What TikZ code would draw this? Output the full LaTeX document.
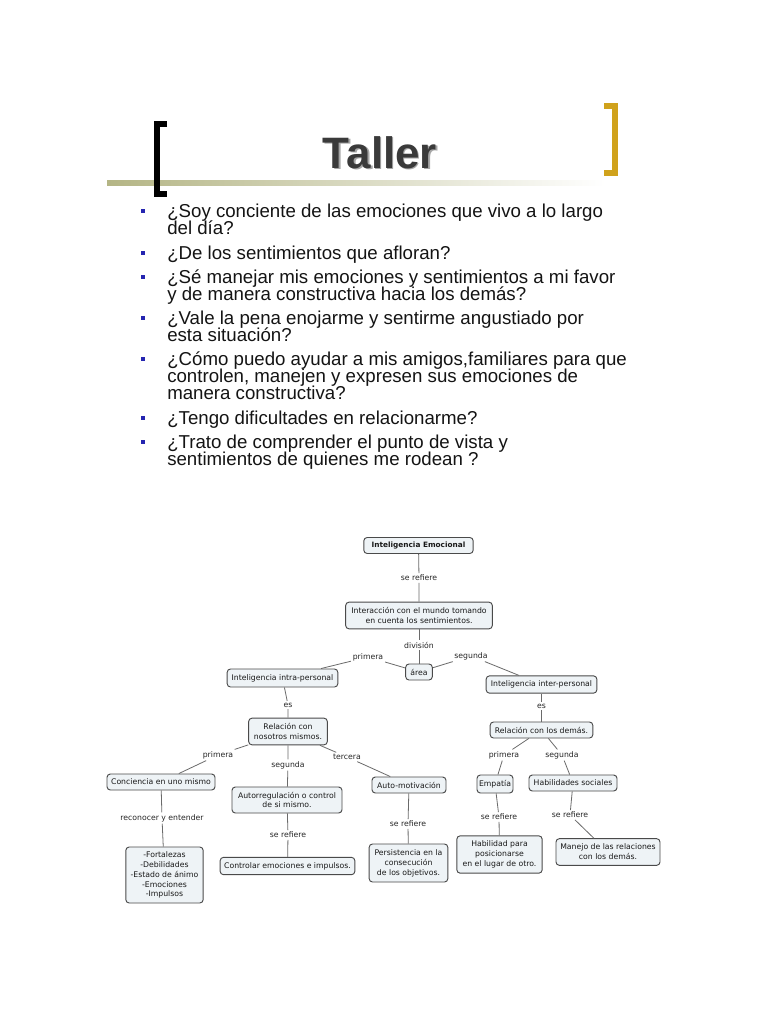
\documentclass[tikz,border=0pt]{standalone}
\usepackage{fontspec}
\setmainfont{Liberation Sans}
\newfontfamily\mapfont{DejaVu Sans}
\definecolor{boxfill}{HTML}{EEF3F6}
\definecolor{boxdraw}{HTML}{4A4A4A}
\definecolor{linkgray}{HTML}{6A6A6A}
\definecolor{bulletblue}{HTML}{2525B0}
\definecolor{goldbr}{HTML}{D0A21C}
\definecolor{olivebar}{HTML}{B4B585}
\definecolor{titlegray}{HTML}{3A3A3A}
\begin{document}
\begin{tikzpicture}[x=0.75pt,y=-0.75pt,
 cbox/.style={draw=boxdraw, line width=0.7pt, rounded corners=2.5pt, fill=boxfill,
   font=\mapfont\fontsize{5.8}{7.4}\selectfont, align=center, inner sep=1.5pt, text=black!90},
 clabel/.style={font=\mapfont\fontsize{5.8}{7}\selectfont, inner sep=1.2pt, text=black!85},
 link/.style={draw=linkgray, line width=0.6pt},
 qline/.style={anchor=base west, inner sep=0pt, font=\fontsize{14}{16}\selectfont, text=black!92},
 bul/.style={fill=bulletblue, minimum size=3pt, inner sep=0pt}]
\useasboundingbox (0,0) rectangle (768,1024);
\fill[white] (0,0) rectangle (768,1024);

% ---------- title ----------
\shade[left color=olivebar, right color=white] (107,180) rectangle (605,185);
\draw[line width=4pt, line cap=butt] (167,124) -- (157,124) -- (157,194) -- (167,194);
\draw[goldbr, line width=4pt, line cap=butt] (604,106) -- (615,106) -- (615,173) -- (604,173);
\node[anchor=base, font=\fontsize{33}{33}\selectfont\bfseries, text=black!35] (titlesh) at (381.5,169.5) {Taller};
\node[anchor=base, font=\fontsize{33}{33}\selectfont\bfseries, text=titlegray] (title) at (380,168) {Taller};

% ---------- questions ----------
\foreach \yb in {217,259,283,324,365,424,448}
  \node[bul] at (143,\yb-6) {};
\node[qline] (q1a) at (167,217) {¿Soy conciente de las emociones que vivo a lo largo};
\node[qline] (q1b) at (167,234) {del día?};
\node[qline] (q2)  at (167,259) {¿De los sentimientos que afloran?};
\node[qline] (q3a) at (167,283) {¿Sé manejar mis emociones y sentimientos a mi favor};
\node[qline] (q3b) at (167,300) {y de manera constructiva hacia los demás?};
\node[qline] (q4a) at (167,324) {¿Vale la pena enojarme y sentirme angustiado por};
\node[qline] (q4b) at (167,341) {esta situación?};
\node[qline] (q5a) at (167,365) {¿Cómo puedo ayudar a mis amigos,familiares para que};
\node[qline] (q5b) at (167,382) {controlen, manejen y expresen sus emociones de};
\node[qline] (q5c) at (167,399) {manera constructiva?};
\node[qline] (q6)  at (167,424) {¿Tengo dificultades en relacionarme?};
\node[qline] (q7a) at (167,448) {¿Trato de comprender el punto de vista y};
\node[qline] (q7b) at (167,465) {sentimientos de quienes me rodean ?};

% ---------- concept map nodes ----------
\node[cbox, font=\mapfont\bfseries\fontsize{5.5}{7}\selectfont, minimum width=82pt, minimum height=12pt] (ie) at (418.5,545.5) {Inteligencia Emocional};
\node[cbox, minimum width=110pt, minimum height=20pt] (inter0) at (419,615.5) {Interacción con el mundo tomando\\en cuenta los sentimientos.};
\node[cbox, minimum width=20pt, minimum height=12pt] (area) at (419,672) {área};
\node[cbox, minimum width=83pt, minimum height=13.5pt] (intra) at (282.5,678) {Inteligencia intra-personal};
\node[cbox, minimum width=83pt, minimum height=13pt] (interp) at (541.5,684.5) {Inteligencia inter-personal};
\node[cbox, minimum width=59pt, minimum height=20pt] (relnos) at (288,731.5) {Relación con\\nosotros mismos.};
\node[cbox, minimum width=77pt, minimum height=12pt] (reldem) at (541.5,730) {Relación con los demás.};
\node[cbox, minimum width=81pt, minimum height=12pt] (conc) at (161,782) {Conciencia en uno mismo};
\node[cbox, minimum width=82.5pt, minimum height=19.5pt] (autoreg) at (287,800) {Autorregulación o control\\de si mismo.};
\node[cbox, minimum width=55.5pt, minimum height=12pt] (automot) at (409,785) {Auto-motivación};
\node[cbox, minimum width=58pt, minimum height=42pt] (fort) at (164.5,875) {-Fortalezas\\-Debilidades\\-Estado de ánimo\\-Emociones\\-Impulsos};
\node[cbox, minimum width=101pt, minimum height=13pt] (contr) at (287.5,866) {Controlar emociones e impulsos.};
\node[cbox, minimum width=59pt, minimum height=28.5pt] (pers) at (408.5,863) {Persistencia en la\\consecución\\de los objetivos.};
\node[cbox, minimum width=25.5pt, minimum height=13.5pt] (emp) at (495,784) {Empatía};
\node[cbox, minimum width=66pt, minimum height=12pt] (habsoc) at (573,783) {Habilidades sociales};
\node[cbox, minimum width=64pt, minimum height=28pt] (habpara) at (499.5,854.5) {Habilidad para\\posicionarse\\en el lugar de otro.};
\node[cbox, minimum width=78pt, minimum height=20pt] (manejo) at (608,852) {Manejo de las relaciones\\con los demás.};

% ---------- link labels ----------
\node[clabel] (l1) at (419,578) {se refiere};
\node[clabel] (l2) at (419,645) {división};
\node[clabel] (l3) at (368,657) {primera};
\node[clabel] (l4) at (471,656) {segunda};
\node[clabel] (l5) at (288,705) {es};
\node[clabel] (l6) at (541.5,706) {es};
\node[clabel] (l7) at (218,755) {primera};
\node[clabel] (l8) at (288,765) {segunda};
\node[clabel] (l9) at (347,757) {tercera};
\node[clabel] (l10) at (162,818) {reconocer y entender};
\node[clabel] (l11) at (288,835) {se refiere};
\node[clabel] (l12) at (408,824) {se refiere};
\node[clabel] (l13) at (504,755) {primera};
\node[clabel] (l14) at (562,755) {segunda};
\node[clabel] (l15) at (499,817) {se refiere};
\node[clabel] (l16) at (570,815) {se refiere};

% ---------- connectors ----------
\draw[link] (ie) -- (l1) -- (inter0);
\draw[link] (inter0) -- (l2) -- (area);
\draw[link] (area) -- (l3) -- (intra);
\draw[link] (area) -- (l4) -- (interp);
\draw[link] (intra) -- (l5) -- (relnos);
\draw[link] (interp) -- (l6) -- (reldem);
\draw[link] (relnos) -- (l7) -- (conc);
\draw[link] (relnos) -- (l8) -- (autoreg);
\draw[link] (relnos) -- (l9) -- (automot);
\draw[link] (conc) -- (l10) -- (fort);
\draw[link] (autoreg) -- (l11) -- (contr);
\draw[link] (automot) -- (l12) -- (pers);
\draw[link] (reldem) -- (l13) -- (emp);
\draw[link] (reldem) -- (l14) -- (habsoc);
\draw[link] (emp) -- (l15) -- (habpara);
\draw[link] (habsoc) -- (l16) -- (manejo);
\end{tikzpicture}
\end{document}
